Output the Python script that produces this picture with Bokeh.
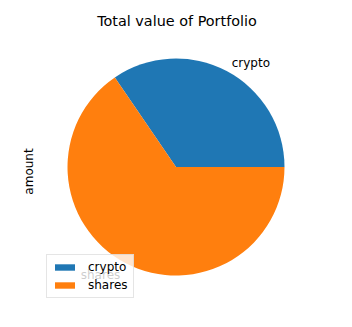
import math
from bokeh.plotting import figure
from bokeh.models import ColumnDataSource, Label, Legend, LegendItem, Range1d
from bokeh.core.properties import value
from bokeh.embed import file_html
from bokeh.resources import INLINE

# data
categories = ["crypto", "shares"]
amounts = [24000, 45500]
colors = ["#1f77b4", "#ff7f0e"]
title_text = "Total value of Portfolio"
ylabel_text = "amount"

# geometry (pixels)
W, H = 352, 327
cx, cy, R = 175.5, 166.5, 108.5

total = float(sum(amounts))
starts, ends, lx, ly, aligns = [], [], [], [], []
acc = 0.0
for a in amounts:
    s = acc / total * 2 * math.pi
    acc += a
    e = acc / total * 2 * math.pi
    starts.append(s)
    ends.append(e)
    mid = (s + e) / 2
    x = 1.1 * math.cos(mid)
    lx.append(x)
    ly.append(1.1 * math.sin(mid))
    aligns.append("left" if x > 0 else "right")

src = ColumnDataSource(dict(cat=categories, start=starts, end=ends, color=colors,
                            lx=lx, ly=ly, align=aligns))

p = figure(width=W, height=H, output_backend="svg", toolbar_location=None,
           min_border=0, x_axis_location=None, y_axis_location=None,
           outline_line_color=None,
           x_range=Range1d(-cx / R, (W - cx) / R),
           y_range=Range1d(-(H - cy) / R, cy / R))
p.grid.visible = False
p.background_fill_color = "white"
p.border_fill_color = "white"

r = p.wedge(x=0, y=0, radius=1.0, start_angle="start", end_angle="end",
            fill_color="color", line_color=None, source=src)

p.text(x="lx", y="ly", text="cat", text_align="align", text_baseline="middle",
       y_offset=2,
       text_font=value("DejaVu Sans"), text_font_size="12px", text_color="black",
       source=src)

p.add_layout(Label(x=cx + 1, y=H - 20, x_units="screen", y_units="screen",
                   text=title_text, text_align="center", text_baseline="middle",
                   text_font="DejaVu Sans", text_font_size="14.4px", text_color="black"))
p.add_layout(Label(x=28, y=H - 171, x_units="screen", y_units="screen",
                   text=ylabel_text, angle=math.pi / 2, text_align="center",
                   text_baseline="middle",
                   text_font="DejaVu Sans", text_font_size="12px", text_color="black"))

items = [LegendItem(label=c, renderers=[r], index=i) for i, c in enumerate(categories)]
legend = Legend(items=items, location=(46, H - 298), margin=0, padding=5,
                spacing=4, glyph_width=25, glyph_height=8, label_height=14,
                label_standoff=11, label_text_font="DejaVu Sans",
                label_text_font_size="12px", label_text_color="black",
                background_fill_alpha=0.8, border_line_color="#cccccc",
                border_line_width=1)
p.add_layout(legend, "center")

open("out.html", "w").write(file_html(p, INLINE))
